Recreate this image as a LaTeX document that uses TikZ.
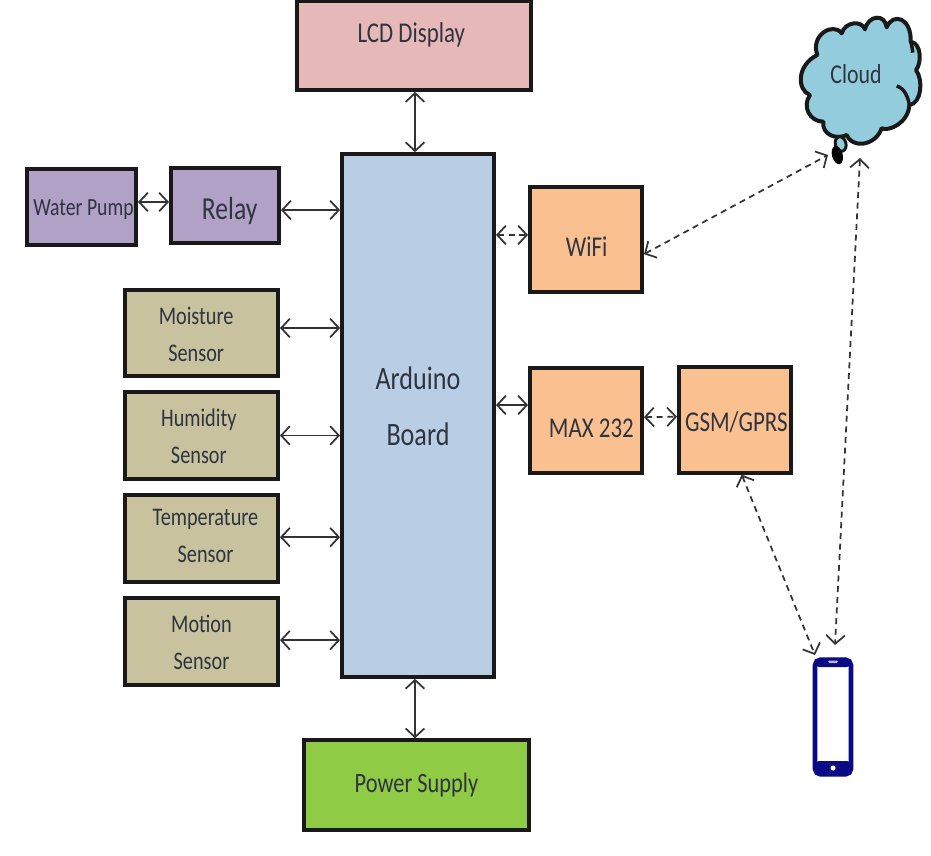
\documentclass[tikz,border=0pt]{standalone}
\usepackage{fontspec}
\setmainfont[FakeStretch=0.8]{Carlito}
\usetikzlibrary{arrows.meta,calc}
\definecolor{ink}{HTML}{2E3440}
\definecolor{lcdfill}{HTML}{E6B9B8}
\definecolor{mcufill}{HTML}{B9CDE5}
\definecolor{pumpfill}{HTML}{B2A1C7}
\definecolor{sensfill}{HTML}{C9C29E}
\definecolor{commfill}{HTML}{FAC090}
\definecolor{pwrfill}{HTML}{8FCB45}
\definecolor{cloudfill}{HTML}{93CDDD}
\definecolor{phonecol}{HTML}{0A0A85}
% shift a label inside its box by dx,dy without changing the box
\newcommand{\nudge}[3]{\raisebox{#2}[0pt][0pt]{\makebox[0pt]{\hspace*{#1}\hspace*{#1}\begin{tabular}{@{}c@{}}#3\end{tabular}}}}
\tikzset{
  box/.style={draw=black!90,line width=3pt,inner sep=0pt,align=center,text=ink,font=\fontsize{21.5}{28}\selectfont},
  sens/.style={box,fill=sensfill,minimum width=114.75pt,minimum height=65pt,font=\fontsize{19}{28}\selectfont},
  comm/.style={box,fill=commfill,minimum width=84pt,minimum height=79pt},
  link/.style={draw=black!80,line width=1.3pt,{Straight Barb[length=6.5pt,width=14pt,line width=1.3pt]}-{Straight Barb[length=6.5pt,width=14pt,line width=1.3pt]}},
  dlink/.style={link,dash pattern=on 4.5pt off 3.5pt},
}
\begin{document}
\begin{tikzpicture}[x=0.75pt,y=-0.75pt]
\useasboundingbox (0,0) rectangle (931,856);
\fill[white] (0,0) rectangle (931,856);
\node[box,fill=lcdfill,minimum width=175.5pt,minimum height=66.75pt] (lcd) at (414,45.5) {\nudge{-2pt}{3pt}{LCD Display}};
\node[box,fill=mcufill,minimum width=114pt,minimum height=392pt,font=\fontsize{24.5}{42}\selectfont] (mcu) at (418,415.5) {\nudge{0pt}{0.5pt}{Arduino\\Board}};
\node[box,fill=pumpfill,minimum width=81.75pt,minimum height=57pt,font=\fontsize{18.5}{20}\selectfont] (pump) at (81.5,207) {\nudge{1.5pt}{-6.5pt}{Water Pump}};
\node[box,fill=pumpfill,minimum width=81pt,minimum height=56.25pt,font=\fontsize{24}{26}\selectfont] (relay) at (225,205.5) {\nudge{3.5pt}{-11.5pt}{Relay}};
\node[sens] (moist) at (201.5,333) {\nudge{-4pt}{-6pt}{Moisture\\Sensor}};
\node[sens] (humid) at (201.5,435.5) {\nudge{-2pt}{-6pt}{Humidity\\Sensor}};
\node[sens] (temp) at (201.5,538.5) {\nudge{3pt}{-3pt}{Temperature\\Sensor}};
\node[sens] (motion) at (201.5,641.5) {\nudge{0pt}{-6pt}{Motion\\Sensor}};
\node[comm] (wifi) at (586,239.5) {\nudge{0.5pt}{-12.5pt}{WiFi}};
\node[comm] (max) at (586,420.5) {\nudge{4pt}{-12pt}{MAX 232}};
\node[comm] (gsm) at (735,420) {\nudge{1pt}{-8pt}{GSM/GPRS}};
\node[box,fill=pwrfill,minimum width=168.5pt,minimum height=67pt,font=\fontsize{21}{28}\selectfont] (pwr) at (416.5,785) {Power Supply};
% cloud
\begin{scope}[shift={(780,0)},x=0.25pt,y=-0.25pt]
\draw[line width=3pt,draw=black!90,fill=cloudfill,line join=round]
 (112,165) .. controls (90,105) and (160,65) .. (185,100)
 .. controls (195,65) and (245,60) .. (255,88)
 .. controls (265,45) and (315,40) .. (320,82)
 .. controls (340,35) and (395,55) .. (392,125)
 .. controls (425,130) and (425,190) .. (408,210)
 .. controls (430,240) and (425,310) .. (388,315)
 .. controls (385,370) and (325,395) .. (305,385)
 .. controls (285,440) and (215,445) .. (200,405)
 .. controls (170,420) and (125,405) .. (130,365)
 .. controls (90,365) and (65,320) .. (90,285)
 .. controls (50,270) and (50,195) .. (112,165) -- cycle;
\draw[line width=2.6pt,draw=black!90] (350,258) .. controls (375,265) and (385,295) .. (388,315);
\draw[line width=2.6pt,draw=black!90] (392,125) .. controls (395,135) and (398,150) .. (398,158);
\draw[line width=2.2pt,draw=black!90,fill=cloudfill,rotate around={15:(182,432)}] (182,432) ellipse (16 and 22);
\fill[black,rotate around={15:(172,465)}] (172,465) ellipse (16 and 28);
\end{scope}
\node[text=ink,font=\fontsize{20.5}{22}\selectfont,inner sep=0pt] (cloudlabel) at (856,74) {Cloud};
\coordinate (cloudw) at (828,155);
\coordinate (cloudb) at (860,158);
% phone
\node[draw=phonecol,fill=white,line width=3.4pt,rounded corners=4pt,minimum width=27pt,minimum height=86pt,inner sep=0pt] (phone) at (833,717) {};
\fill[phonecol,rounded corners=3pt] (815,659) rectangle (851,667);
\fill[phonecol,rounded corners=3pt] (815,761) rectangle (851,775);
\fill[white] (833,768) circle (2.5);
\fill[white!70!phonecol,rounded corners=1pt] (828,660.5) rectangle (838,663);
\coordinate (phonea) at (815,655);
\coordinate (phoneb) at (835,645);
% connectors
\draw[link] ([xshift=-2.25pt]lcd.south -| mcu.north) -- ([xshift=-2.25pt]mcu.north);
\draw[link] ([xshift=-2.25pt]mcu.south) -- ([xshift=-2.25pt]pwr.north -| mcu.south);
\draw[link] ([yshift=3.75pt]pump.east) -- ([yshift=2.6pt]relay.west);
\draw[link] ([yshift=-3.4pt]relay.east) -- ([yshift=-3.4pt]relay.east -| mcu.west);
\draw[link] ([yshift=3.75pt]moist.east) -- ([yshift=3.75pt]moist.east -| mcu.west);
\draw[link] (humid.east) -- (humid.east -| mcu.west);
\draw[link] ([yshift=1pt]temp.east) -- ([yshift=1pt]temp.east -| mcu.west);
\draw[link] ([yshift=1pt]motion.east) -- ([yshift=1pt]motion.east -| mcu.west);
\draw[dlink] ([yshift=3.4pt]wifi.west -| mcu.east) -- ([yshift=3.4pt]wifi.west);
\draw[link] ([yshift=11.6pt]max.west -| mcu.east) -- ([yshift=11.6pt]max.west);
\draw[dlink] ([yshift=2.5pt]max.east) -- ([yshift=2.5pt]gsm.west);
\draw[dlink] ([yshift=-11pt]wifi.east) -- (cloudw);
\draw[dlink] ([xshift=5pt]gsm.south) -- (phonea);
\draw[dlink] (cloudb) -- (phoneb);
\end{tikzpicture}
\end{document}
